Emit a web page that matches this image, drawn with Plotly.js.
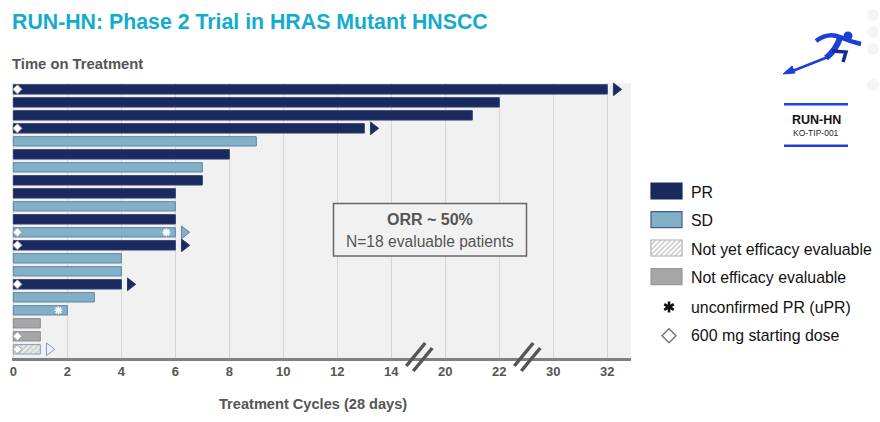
<!DOCTYPE html>
<html>
<head>
<meta charset="utf-8">
<script src="https://cdn.plot.ly/plotly-3.0.1.min.js"></script>
<style>html,body{margin:0;padding:0;background:#fff;}#chart{width:880px;height:422px;}</style>
</head>
<body>
<div id="chart"></div>
<script>
// ---- Data ----
const cycles   = [32, 22, 21, 13, 9, 8, 7, 7, 6, 6, 6, 6, 6, 4, 4, 4, 3, 2, 1, 1, 1];
const response = ['PR','PR','PR','PR','SD','PR','SD','PR','PR','SD','PR','SD','PR','SD','SD','PR','SD','SD','NE','NE','NYE'];
const ongoing  = [1,0,0,1,0,0,0,0,0,0,0,1,1,0,0,1,0,0,0,0,1];
const dose600  = [1,0,0,1,0,0,0,0,0,0,0,1,1,0,0,1,0,0,0,1,1];
const uPR      = [0,0,0,0,0,0,0,0,0,0,0,1,0,0,0,0,0,1,0,0,0];
const tickValuesReal = [0,2,4,6,8,10,12,14,20,22,30,32];
const tickLabels = ['0','2','4','6','8','10','12','14','20','22','30','32'];
const legendLabels = ['PR','SD','Not yet efficacy evaluable','Not efficacy evaluable','unconfirmed PR (uPR)','600 mg starting dose'];

// ---- Broken axis mapping: 14 | 20-22 | 30-32 ----
function brk(v){ return v <= 14 ? v : (v <= 22 ? v - 4 : v - 10); }

const FONT = 'Liberation Sans, Arial, sans-serif';
const W = 880, H = 422, ML = 12, MR = 249, MT = 83, MB = 64;
const PW = W - ML - MR, PH = H - MT - MB;
const X = x => (x - ML) / PW;
const Y = y => (H - MB - y) / PH;

const styles = {
  PR:  {fill:'#1b2a5e', line:'#2c3c70'},
  SD:  {fill:'#82b1c7', line:'#5d86a6'},
  NE:  {fill:'#a6a6a6', line:'#8c8c98'},
  NYE: {fill:'#e4e4e4', line:'#8a9ac0'}
};

const rowIdx = cycles.map((_, i) => i);
const traces = [];
['PR','SD','NE','NYE'].forEach(k => {
  const idx = rowIdx.filter(i => response[i] === k);
  const t = {
    type:'bar', orientation:'h', base:0,
    y: idx, x: idx.map(i => brk(cycles[i])), width:0.72,
    marker:{color:styles[k].fill, line:{color:styles[k].line, width:1}},
    hoverinfo:'skip', showlegend:false
  };
  if (k === 'NYE') t.marker.pattern = {shape:'/', fgcolor:'#c4c4c4', bgcolor:'#e8e8e8', size:4, solidity:0.3};
  traces.push(t);
});

// ongoing arrows
const arrIdx = rowIdx.filter(i => ongoing[i]);
traces.push({
  type:'scatter', mode:'markers', cliponaxis:false,
  y: arrIdx, x: arrIdx.map(i => brk(cycles[i]) + 0.33),
  marker:{symbol:'triangle-right', size:11,
    color: arrIdx.map(i => response[i]==='NYE' ? '#eef1f6' : styles[response[i]].fill),
    line:{color: arrIdx.map(i => response[i]==='NYE' ? '#8a9ac0' : styles[response[i]].line), width:1}},
  hoverinfo:'skip', showlegend:false
});
// 600 mg diamonds
const dIdx = rowIdx.filter(i => dose600[i]);
traces.push({
  type:'scatter', mode:'markers',
  y: dIdx, x: dIdx.map(() => 0.15),
  marker:{symbol:'diamond', size:7, color:'#ffffff', line:{color:'#9a9a9a', width:1}},
  hoverinfo:'skip', showlegend:false
});
// uPR asterisks
const sIdx = rowIdx.filter(i => uPR[i]);
traces.push({
  type:'scatter', mode:'markers',
  y: sIdx, x: sIdx.map(i => brk(cycles[i]) - 0.33),
  marker:{symbol:'asterisk-open', size:6.5, color:'#ffffff', line:{color:'#ffffff', width:1.6}},
  hoverinfo:'skip', showlegend:false
});

// ---- shapes ----
const shapes = [];
// ORR box
shapes.push({type:'rect', xref:'paper', yref:'paper', x0:X(333.5), x1:X(526.5), y0:Y(203.5), y1:Y(256),
  line:{color:'#666', width:1.5}, fillcolor:'#f1f1f1', layer:'above'});
// axis break marks
[15, 19].forEach(c => {
  [[-12,9,7,-14],[-5,14,14,-9]].forEach(o => {
    shapes.push({type:'line', xref:'x', yref:'paper',
      x0: c + o[0]/27, y0: Y(357 + o[1]), x1: c + o[2]/27, y1: Y(357 + o[3]),
      line:{color:'#555', width:3.5}, layer:'above'});
  });
});
// legend boxes
const lgY = [192, 220.7, 249, 277.7, 307, 335.7];
const bx0 = 651, bx1 = 682;
const boxStyle = [
  {fill:'#1b2a5e', line:'#1b2a5e'},
  {fill:'#82b1c7', line:'#3b5f86'},
  {fill:'#ffffff', line:'#aaaaaa'},
  {fill:'#a6a6a6', line:'#999999'}
];
for (let k = 0; k < 4; k++) {
  const yc = lgY[k] - 1;
  shapes.push({type:'rect', xref:'paper', yref:'paper', x0:X(bx0), x1:X(bx1), y0:Y(yc+8), y1:Y(yc-8),
    fillcolor:boxStyle[k].fill, line:{color:boxStyle[k].line, width:1.2}});
  if (k === 2) {
    const w = bx1 - bx0, h = 16, yb = yc + 8;
    for (let s = -h; s < w; s += 5) {
      const t0 = Math.max(0, -s), t1 = Math.min(h, w - s);
      if (t1 > t0) shapes.push({type:'line', xref:'paper', yref:'paper',
        x0:X(bx0 + s + t0), y0:Y(yb - t0), x1:X(bx0 + s + t1), y1:Y(yb - t1),
        line:{color:'#c4c4c4', width:1.3}});
    }
  }
}
// legend asterisk
const ax = 669, ay = lgY[4];
[0, 60, 120].forEach(a => {
  const r = a * Math.PI / 180, L = 5.5;
  shapes.push({type:'line', xref:'paper', yref:'paper',
    x0:X(ax - L*Math.sin(r)), y0:Y(ay - L*Math.cos(r)), x1:X(ax + L*Math.sin(r)), y1:Y(ay + L*Math.cos(r)),
    line:{color:'#111', width:2.6}});
});
// legend diamond
const dx = 669, dy = lgY[5], dr = 7;
shapes.push({type:'path', xref:'paper', yref:'paper',
  path:`M ${X(dx)},${Y(dy-dr)} L ${X(dx+dr)},${Y(dy)} L ${X(dx)},${Y(dy+dr)} L ${X(dx-dr)},${Y(dy)} Z`,
  fillcolor:'#fff', line:{color:'#777', width:1.5}});
// logo
[104.3, 145.7].forEach(yy => shapes.push({type:'line', xref:'paper', yref:'paper',
  x0:X(784), x1:X(848), y0:Y(yy), y1:Y(yy), line:{color:'#1c3fe0', width:2.5}}));
[15, 32, 49, 85].forEach(yy => shapes.push({type:'circle', xref:'paper', yref:'paper',
  x0:X(867), x1:X(879), y0:Y(yy+6), y1:Y(yy-6), fillcolor:'#f5f5f5', line:{width:0}}));
const blue = '#1c3fd8', navy = '#142a8f';
shapes.push({type:'path', xref:'paper', yref:'paper',
  path:`M ${X(816)},${Y(41)} Q ${X(828)},${Y(32)} ${X(840)},${Y(37)} Q ${X(851)},${Y(42)} ${X(861)},${Y(44)}`,
  line:{color:blue, width:4.5}});
shapes.push({type:'path', xref:'paper', yref:'paper',
  path:`M ${X(840)},${Y(38)} Q ${X(836)},${Y(50)} ${X(826)},${Y(58)}`,
  line:{color:blue, width:6}});
shapes.push({type:'path', xref:'paper', yref:'paper',
  path:`M ${X(832)},${Y(51)} L ${X(846)},${Y(52)} L ${X(843)},${Y(62)}`,
  line:{color:navy, width:3.5}});
shapes.push({type:'path', xref:'paper', yref:'paper',
  path:`M ${X(828)},${Y(57)} L ${X(790)},${Y(72)}`,
  line:{color:blue, width:2.5}});
shapes.push({type:'path', xref:'paper', yref:'paper',
  path:`M ${X(783)},${Y(74)} L ${X(792)},${Y(66)} L ${X(795)},${Y(73)} Z`,
  fillcolor:blue, line:{color:blue, width:1}});
shapes.push({type:'circle', xref:'paper', yref:'paper',
  x0:X(843.5), x1:X(852.5), y0:Y(40.5), y1:Y(31.5), fillcolor:blue, line:{width:0}});

// ---- annotations ----
const ann = [];
function txt(text, x, y, size, color, opts){
  ann.push(Object.assign({text, xref:'paper', yref:'paper', x:X(x), y:Y(y), showarrow:false,
    xanchor:'left', yanchor:'middle', font:{family:FONT, size, color}}, opts || {}));
}
txt('<b>RUN-HN: Phase 2 Trial in HRAS Mutant HNSCC</b>', 10, 22, 21.3, '#14acce');
txt('<b>Time on Treatment</b>', 10, 63.5, 14.8, '#555');
txt('<b>Treatment Cycles (28 days)</b>', 312.5, 404, 14.6, '#555', {xanchor:'center'});
txt('<b>ORR ~ 50%</b>', 430, 219, 16, '#555', {xanchor:'center'});
txt('N=18 evaluable patients', 430, 241.5, 15.6, '#555', {xanchor:'center'});
legendLabels.forEach((l, i) => txt(l, 689, lgY[i], 15.9, '#111'));
txt('<b>RUN-HN</b>', 816, 119.5, 12.5, '#111', {xanchor:'center'});
txt('KO-TIP-001', 816, 133, 8.5, '#222', {xanchor:'center'});

const layout = {
  width:W, height:H, margin:{l:ML, r:MR, t:MT, b:MB, pad:0},
  paper_bgcolor:'#ffffff', plot_bgcolor:'#f1f1f1',
  barmode:'overlay', showlegend:false,
  xaxis:{range:[-0.05, 22.88], tickvals:tickValuesReal.map(brk), ticktext:tickLabels,
    showgrid:true, gridcolor:'#d6d6d6', gridwidth:1, zeroline:false,
    showline:true, linecolor:'#808080', linewidth:2.5, ticks:'', 
    tickfont:{family:FONT, size:13, color:'#555', weight:'bold'}, fixedrange:true},
  yaxis:{range:[20.67, -0.49], showgrid:false, zeroline:false, showticklabels:false, showline:false, fixedrange:true},
  shapes, annotations:ann
};
Plotly.newPlot('chart', traces, layout, {staticPlot:true, displayModeBar:false});
</script>
</body>
</html>
